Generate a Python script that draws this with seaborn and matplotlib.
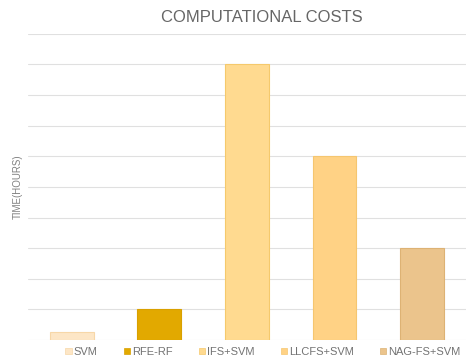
import matplotlib
matplotlib.use('agg')
import matplotlib.pyplot as plt
import matplotlib.patches as mpatches
import seaborn as sns
import numpy as np

sns.set_theme(style='white')
plt.rcParams['font.family'] = ['Liberation Sans', 'DejaVu Sans']

# --- data (hours, read off the gridlines; no axis values shown)
methods = ['SVM', 'RFE-RF', 'IFS+SVM', 'LLCFS+SVM', 'NAG-FS+SVM']
times = [0.25, 1.0, 9.0, 6.0, 3.0]

fill_colors = ['#FDE6C6', '#E2A900', '#FFDA90', '#FFD285', '#EBC48C']
edge_colors = ['#F7D7A8', '#D9A000', '#F5C96C', '#F5C670', '#DDB274']

fig = plt.figure(figsize=(4.74, 3.64), dpi=100)
ax = fig.add_axes([0.059, 0.066, 0.924, 0.841])

sns.barplot(x=methods, y=times, hue=methods, palette=fill_colors,
            saturation=1, legend=False, width=0.5, ax=ax, zorder=3)
for p, ec in zip(ax.patches, edge_colors):
    p.set_edgecolor(ec)
    p.set_linewidth(0.8)

ax.set_ylim(0, 10)
ax.set_xlim(-0.5, 4.5)
ax.set_yticks(np.arange(0, 11, 1))
ax.yaxis.grid(True, color='#E0E0E0', linewidth=0.8, zorder=0)
ax.set_axisbelow(True)
ax.tick_params(left=False, bottom=False, labelleft=False, labelbottom=False)
for s in ax.spines.values():
    s.set_visible(False)

ax.set_xlabel('')
ax.set_ylabel('TIME(HOURS)', color='#808080', fontsize=7, labelpad=4)

fig.text(0.553, 0.952, 'COMPUTATIONAL COSTS', ha='center', va='center',
         fontsize=12, color='#666666')

handles = [mpatches.Patch(facecolor=c, edgecolor=e, linewidth=0.5, label=m)
           for m, c, e in zip(methods, fill_colors, edge_colors)]
leg = fig.legend(handles=handles, loc='center', bbox_to_anchor=(0.555, 0.033),
                 ncol=5, frameon=False, fontsize=8, handlelength=0.55,
                 handleheight=0.55, handletextpad=0.2, columnspacing=2.35)
for t in leg.get_texts():
    t.set_color('#737373')

fig.savefig('out.png', dpi=100)
